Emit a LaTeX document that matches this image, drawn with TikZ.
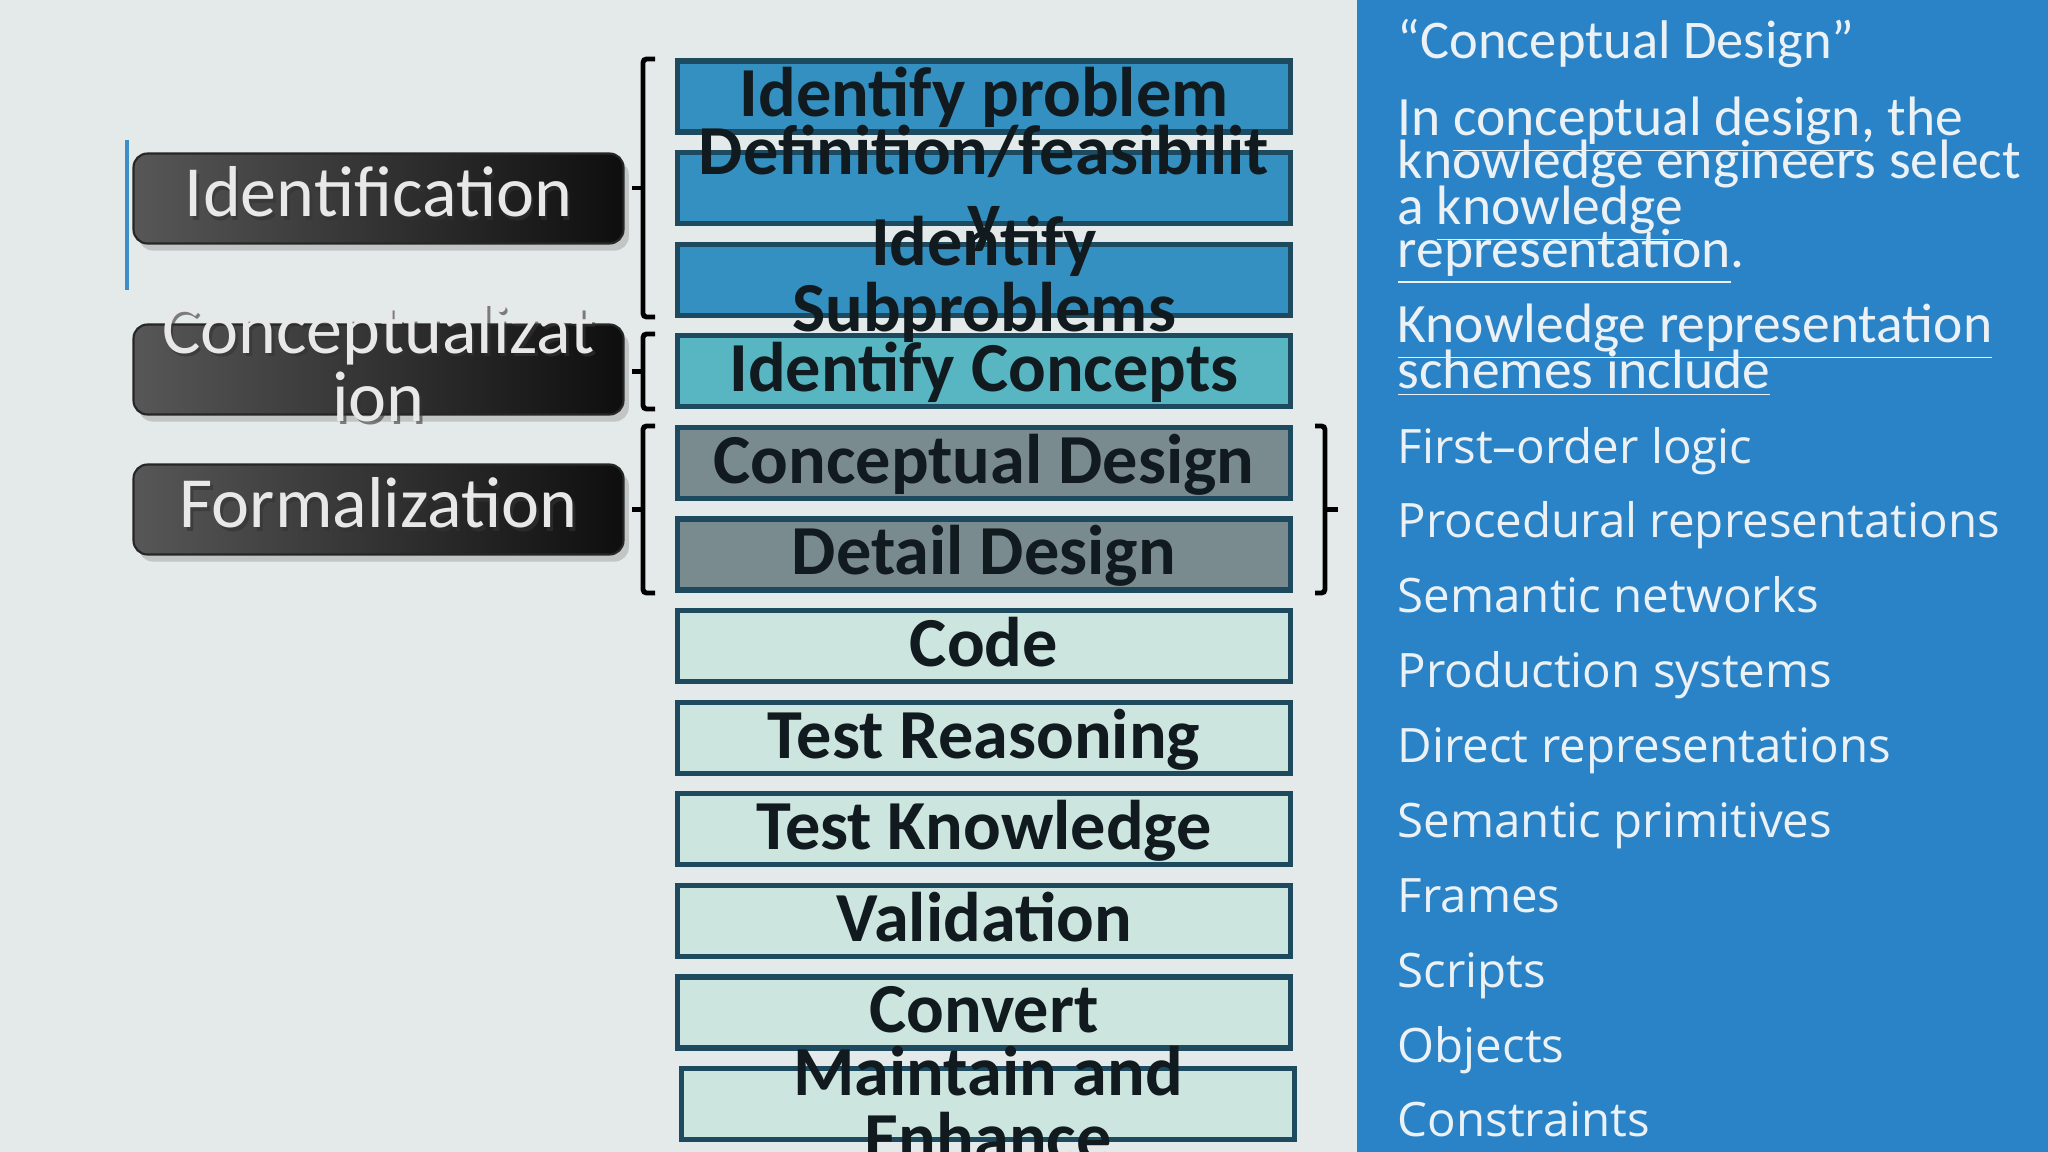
\documentclass[tikz,border=0pt]{standalone}
\usepackage{fontspec}
\usepackage{tikz}
\usepackage{xcolor}
\usetikzlibrary{shadows}
\setmainfont{Carlito}
\newfontfamily\listfont{Open Sans}
\definecolor{BgColor}{HTML}{E4EAE9}
\definecolor{PanelBlue}{HTML}{2A83C6}
\definecolor{FontDark}{HTML}{111A1E}
\definecolor{FontLight}{HTML}{EBF1F5}
\definecolor{FontPhase}{HTML}{E8E8E8}
\definecolor{EdgeBlue}{HTML}{1E4A60}
\definecolor{ProbBlue}{HTML}{3490C0}
\definecolor{ConcTeal}{HTML}{58B6C3}
\definecolor{DesGray}{HTML}{7A8B8F}
\definecolor{ImplMint}{HTML}{CCE6DF}
\definecolor{MarkBlue}{HTML}{3A8FC8}
\definecolor{PhaseLeft}{HTML}{575757}
\definecolor{PhaseRight}{HTML}{0E0E0E}
\newcommand\nodeidf{Identification}
\newcommand\nodecpt{Conceptualizat\\ion}
\newcommand\nodefrm{Formalization}
\newcommand\nodeidp{Identify problem}
\newcommand\nodedfs{Definition/feasibilit\\y}
\newcommand\nodeids{Identify\\Subproblems}
\newcommand\nodeidc{Identify Concepts}
\newcommand\nodecds{Conceptual Design}
\newcommand\nodedds{Detail Design}
\newcommand\nodecod{Code}
\newcommand\nodetrs{Test Reasoning}
\newcommand\nodetkn{Test Knowledge}
\newcommand\nodeval{Validation}
\newcommand\nodecnv{Convert}
\newcommand\nodemae{Maintain and\\Enhance}
\tikzstyle{boxstyle} = [rectangle, minimum width=6.13cm, minimum height=0.71cm, inner sep=0pt, draw=EdgeBlue, line width=1.5pt]
\tikzstyle{pb} = [boxstyle, fill=ProbBlue]
\tikzstyle{cb} = [boxstyle, fill=ConcTeal]
\tikzstyle{gb} = [boxstyle, fill=DesGray]
\tikzstyle{mb} = [boxstyle, fill=ImplMint]
\tikzstyle{st} = [inner sep=0pt, align=center, text=FontDark, font=\fontsize{20}{18.8}\selectfont\bfseries]
\tikzstyle{st1} = [st, text height=15pt, text depth=3.4pt]
\tikzstyle{ph} = [rectangle, rounded corners=0.14cm, minimum width=4.9cm, minimum height=0.9cm, inner sep=0pt, draw=black!85, line width=0.6pt, left color=PhaseLeft, right color=PhaseRight, drop shadow={opacity=0.35, shadow xshift=1.5pt, shadow yshift=-2pt}]
\tikzstyle{pht} = [inner sep=0pt, align=center, text=FontPhase, font=\fontsize{20.5}{19.3}\selectfont]
\tikzstyle{pht1} = [pht, text height=15.2pt, text depth=4.7pt]
\tikzstyle{phs} = [text=black!80, opacity=0.6, xshift=0.8pt, yshift=-1pt]
\tikzstyle{brk} = [line width=1.4pt, black, rounded corners=1pt]
\tikzstyle{para} = [anchor=base west, inner sep=0pt, text=FontLight, font=\fontsize{15.8}{12.5}\selectfont]
\tikzstyle{item} = [anchor=base west, inner sep=0pt, text=FontLight, font=\listfont\fontsize{13.5}{16}\selectfont]
\tikzset{>=latex, every picture/.style={line width=1pt}}

\begin{document}
\begin{tikzpicture}
\useasboundingbox (0,0) rectangle (20.48,-11.52);
\clip (0,0) rectangle (20.48,-11.52);
\fill[BgColor] (0,0) rectangle (20.48,-11.52);
\fill[PanelBlue] (13.57,0) rectangle (20.48,-11.52);
\draw[MarkBlue, line width=1pt] (1.27,-1.40) -- (1.27,-2.90);
% phases
\node[ph] (idf) at (3.785,-1.985) {};
\node[ph] (cpt) at (3.785,-3.695) {};
\node[ph] (frm) at (3.785,-5.095) {};
\node[pht1, phs] (idf-s) at (idf) {\nodeidf};
\node[pht1] (idf-t) at (idf) {\nodeidf};
\node[pht, phs] (cpt-s) at (3.785,-3.625) {\nodecpt};
\node[pht] (cpt-t) at (3.785,-3.625) {\nodecpt};
\node[pht1, phs] (frm-s) at (frm) {\nodefrm};
\node[pht1] (frm-t) at (frm) {\nodefrm};
% steps
\node[pb] (idp) at (9.84,-0.965) {};
\node[pb] (dfs) at (9.84,-1.881) {};
\node[pb] (ids) at (9.84,-2.797) {};
\node[cb] (idc) at (9.84,-3.713) {};
\node[gb] (cds) at (9.84,-4.629) {};
\node[gb] (dds) at (9.84,-5.545) {};
\node[mb] (cod) at (9.84,-6.461) {};
\node[mb] (trs) at (9.84,-7.377) {};
\node[mb] (tkn) at (9.84,-8.293) {};
\node[mb] (val) at (9.84,-9.209) {};
\node[mb] (cnv) at (9.84,-10.125) {};
\node[mb] (mae) at (9.88,-11.041) {};
\node[st1] (idp-t) at (idp) {\nodeidp};
\node[st] (dfs-t) at (dfs) {\nodedfs};
\node[st] (ids-t) at (ids) {\nodeids};
\node[st1] (idc-t) at (idc) {\nodeidc};
\node[st1] (cds-t) at (cds) {\nodecds};
\node[st1] (dds-t) at (dds) {\nodedds};
\node[st1] (cod-t) at (cod) {\nodecod};
\node[st1] (trs-t) at (trs) {\nodetrs};
\node[st1] (tkn-t) at (tkn) {\nodetkn};
\node[st1] (val-t) at (val) {\nodeval};
\node[st1] (cnv-t) at (cnv) {\nodecnv};
\node[st] (mae-t) at (mae) {\nodemae};
% brackets
\draw[brk] (6.55,-0.59) -- (6.43,-0.59) -- (6.43,-3.17) -- (6.55,-3.17);
\draw[brk] (6.43,-1.88) -- (6.32,-1.88);
\draw[brk] (6.55,-3.34) -- (6.43,-3.34) -- (6.43,-4.09) -- (6.55,-4.09);
\draw[brk] (6.43,-3.713) -- (6.32,-3.713);
\draw[brk] (6.55,-4.26) -- (6.43,-4.26) -- (6.43,-5.93) -- (6.55,-5.93);
\draw[brk] (6.43,-5.095) -- (6.32,-5.095);
\draw[brk] (13.15,-4.26) -- (13.25,-4.26) -- (13.25,-5.93) -- (13.15,-5.93);
\draw[brk] (13.25,-5.095) -- (13.38,-5.095);
% panel
\node[para, font=\fontsize{15.5}{16}\selectfont] (ttl) at (13.96,-0.59) {“Conceptual Design”};
\node[para] (cd1) at (13.96,-1.36) {In \underline{conceptual design}, the};
\node[para] (cd2) at (13.96,-1.79) {knowledge engineers select};
\node[para] (cd3) at (13.96,-2.25) {a \underline{knowledge}};
\node[para] (cd4) at (13.96,-2.68) {\underline{representation}.};
\node[para] (kr1) at (13.96,-3.43) {\underline{Knowledge representation}};
\node[para] (kr2) at (13.96,-3.89) {\underline{schemes include}};
\node[item] (fol) at (13.96,-4.64) {First–order logic};
\node[item] (prr) at (13.96,-5.38) {Procedural representations};
\node[item] (snw) at (13.96,-6.13) {Semantic networks};
\node[item] (psy) at (13.96,-6.88) {Production systems};
\node[item] (drr) at (13.96,-7.63) {Direct representations};
\node[item] (spr) at (13.96,-8.37) {Semantic primitives};
\node[item] (frs) at (13.96,-9.12) {Frames};
\node[item] (scr) at (13.96,-9.87) {Scripts};
\node[item] (obj) at (13.96,-10.62) {Objects};
\node[item] (cns) at (13.96,-11.36) {Constraints};
\end{tikzpicture}
\end{document}
